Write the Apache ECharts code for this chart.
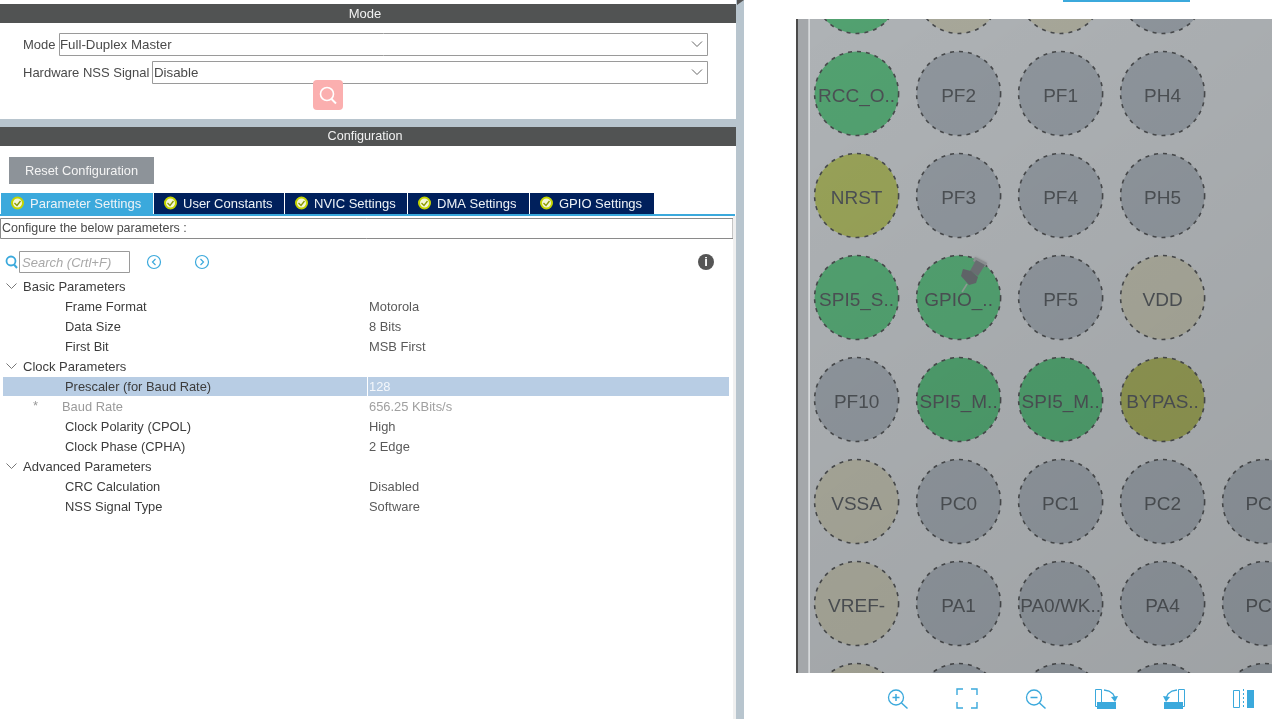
<!DOCTYPE html>
<html>
<head>
<meta charset="utf-8">
<style>html,body{margin:0;padding:0;background:#fff}#main{width:1272px;height:719px}</style>
<script src="https://cdn.jsdelivr.net/npm/echarts@6/dist/echarts.min.js"></script>
</head>
<body>
<div id="main"></div>
<script>
// pin grid, one list per row, row -1 is the one cut by the top edge
var pinRowIds = [-1, 0, 1, 2, 3, 4, 5, 6];
var pinNames = [
    ['', '', '', ''],
    ['RCC_O..', 'PF2', 'PF1', 'PH4'],
    ['NRST', 'PF3', 'PF4', 'PH5'],
    ['SPI5_S..', 'GPIO_..', 'PF5', 'VDD'],
    ['PF10', 'SPI5_M..', 'SPI5_M..', 'BYPAS..'],
    ['VSSA', 'PC0', 'PC1', 'PC2', 'PC'],
    ['VREF-', 'PA1', 'PA0/WK..', 'PA4', 'PC'],
    ['', '', '', '', '']
];
var pinKinds = [
    ['green', 'power', 'power', 'free'],
    ['green', 'free', 'free', 'free'],
    ['olive', 'free', 'free', 'free'],
    ['green', 'green', 'free', 'power'],
    ['free', 'spi', 'spi', 'bypass'],
    ['power', 'free', 'free', 'free', 'free'],
    ['power', 'free', 'free', 'free', 'free'],
    ['power', 'free', 'free', 'free', 'free']
];
var kindColors = {green: '#52a170', spi: '#4e9d6c', olive: '#98a258', bypass: '#8f9652', power: '#a8a89a', free: '#8f969d'};

var tabNames = ['Parameter Settings', 'User Constants', 'NVIC Settings', 'DMA Settings', 'GPIO Settings'];
var tabLeft = [1, 154, 285, 408, 530];
var tabRight = [153, 284, 407, 529, 654];
var paramLabels = ['Basic Parameters', 'Frame Format', 'Data Size', 'First Bit', 'Clock Parameters',
    'Prescaler (for Baud Rate)', 'Baud Rate', 'Clock Polarity (CPOL)', 'Clock Phase (CPHA)',
    'Advanced Parameters', 'CRC Calculation', 'NSS Signal Type'];
var paramValues = ['', 'Motorola', '8 Bits', 'MSB First', '', '128', '656.25 KBits/s', 'High', '2 Edge', '', 'Disabled', 'Software'];
var paramLevels = [0, 1, 1, 1, 0, 1, 2, 1, 1, 0, 1, 1];

var FONT = '"Liberation Sans"';
var BLUE = '#3ba9dc';
var els = [];

function rect(x, y, w, h, fill, stroke, r, z) {
    els.push({type: 'rect', z: z || 10, shape: {x: x, y: y, width: w, height: h, r: r || 0},
        style: {fill: fill || 'none', stroke: stroke || 'none', lineWidth: 1}});
}
function text(s, x, y, color, size, align, extra) {
    els.push({type: 'text', z: 41, style: {text: s, x: x, y: y, fill: color,
        font: (extra || '') + ' ' + size + 'px ' + FONT, align: align || 'left', verticalAlign: 'middle'}});
}
function line(x1, y1, x2, y2, color, w) {
    els.push({type: 'line', z: 40, shape: {x1: x1, y1: y1, x2: x2, y2: y2},
        style: {stroke: color, lineWidth: w || 1}});
}
function circle(x, y, r, fill, stroke, w) {
    els.push({type: 'circle', z: 40, shape: {cx: x, cy: y, r: r},
        style: {fill: fill || 'none', stroke: stroke || 'none', lineWidth: w || 1}});
}
function poly(points, color, w, fill, z) {
    els.push({type: fill ? 'polygon' : 'polyline', z: z || 40, shape: {points: points},
        style: fill ? {fill: color} : {stroke: color, lineWidth: w || 1, fill: 'none'}});
}
function chevron(x, y, size, color) {
    poly([[x - size, y - size / 2], [x, y + size / 2], [x + size, y - size / 2]], color, 1);
}

// left panel
rect(0, 4, 736, 19, '#515353');
text('Mode', 365, 14, '#f2f2f2', 13, 'center');
text('Mode', 23, 45, '#4a4a4a', 13);
rect(59.5, 33.5, 648, 22, '#fff', '#9a9a9a');
text('Full-Duplex Master', 60, 45, '#4a4a4a', 13.3);
chevron(697, 44, 5, '#666');
text('Hardware NSS Signal', 23, 73, '#4a4a4a', 13);
rect(152.5, 61.5, 555, 22, '#fff', '#9a9a9a');
text('Disable', 154, 73, '#4a4a4a', 13.3);
chevron(697, 72, 5, '#666');
rect(313, 80, 30, 30, '#fbafaf', null, 4);
circle(327, 94, 6.5, null, '#fff', 1.6);
line(331.5, 99, 336, 103.5, '#fff', 2);

rect(0, 119, 736, 8, '#b8c5ce');
rect(0, 127, 736, 19, '#515353');
text('Configuration', 365, 137, '#f2f2f2', 12.6, 'center');
rect(9, 157, 145, 27, '#8d9399');
text('Reset Configuration', 81.5, 171, '#f4f4f4', 12.8, 'center');

tabNames.forEach(function (name, i) {
    rect(tabLeft[i], 193, tabRight[i] - tabLeft[i], 21, i === 0 ? BLUE : '#00205c');
    circle(tabLeft[i] + 16.5, 203, 5.5, '#f4f6d8', '#c4d400', 2);
    poly([[tabLeft[i] + 13.5, 203], [tabLeft[i] + 16, 205.5], [tabLeft[i] + 19.5, 201]], '#8a9a00', 1.3);
    text(name, tabLeft[i] + 29, 204, '#eef3f7', 13);
});
rect(0, 214, 735, 2, BLUE);
rect(0.5, 218.5, 732.5, 20, '#fff', '#8a8a8a');
text('Configure the below parameters :', 2, 229, '#4a4a4a', 12.5);

circle(11, 261, 4.5, null, BLUE, 1.8);
line(14, 264.5, 17, 268, BLUE, 2);
rect(19.5, 251.5, 110, 21, '#fff', '#9a9a9a');
text('Search (Crtl+F)', 22, 263, '#a8a8a8', 13, 'left', 'italic');
circle(154, 262, 6.5, null, BLUE, 1.2);
poly([[155.5, 259], [152.5, 262], [155.5, 265]], BLUE, 1.2);
circle(202, 262, 6.5, null, BLUE, 1.2);
poly([[200.5, 259], [203.5, 262], [200.5, 265]], BLUE, 1.2);
circle(706, 262, 8, '#555');
text('i', 706, 262.5, '#fff', 13, 'center', 'bold');

// parameter table
rect(3, 377, 726, 19, '#b8cde4');
rect(367, 377, 1, 19, '#fff');
paramLabels.forEach(function (label, i) {
    var y = 287 + i * 20;
    if (paramLevels[i] === 0) {
        chevron(11.5, y - 1, 5, '#777');
        text(label, 23, y, '#3c3c3c', 13);
    } else if (paramLevels[i] === 1) {
        text(label, 65, y, '#3c3c3c', 12.9);
    } else {
        text('*', 33, y - 1, '#999', 13);
        text(label, 62, y, '#9a9a9a', 12.9);
    }
    if (paramValues[i]) {
        var c = i === 5 ? '#f4f7fb' : (i === 6 ? '#a0a0a0' : '#5a5a5a');
        text(paramValues[i], 369, y, c, 12.9);
    }
});

// divider between the two panels
rect(733, 216, 3, 503, '#f0f0f0');
rect(736, 0, 8, 719, '#b8c5ce');
poly([[737, 0], [744, 0], [737, 5]], '#555', 1, true);

// white bands above and below the chip hide the cut pin rows
rect(796, 0, 476, 19, '#fff', null, 0, 35);
rect(796, 673, 476, 46, '#fff', null, 0, 35);
rect(1063, 0, 127, 2, BLUE, null, 0, 40);

// left rim of the chip
rect(796, 19, 2, 654, '#4a4a4a', null, 0, 30);
rect(798, 19, 10.5, 654, '#a4a7aa', null, 0, 30);
rect(808.5, 19, 1.2, 654, '#e8eaeb', null, 0, 30);

// shading over the whole chip, darker to the lower right
els.push({type: 'rect', z: 25, silent: true, shape: {x: 810, y: 19, width: 462, height: 654},
    style: {fill: new echarts.graphic.LinearGradient(0, 0, 1, 1, [
        {offset: 0, color: 'rgba(0,0,0,0)'},
        {offset: 1, color: 'rgba(0,0,0,0.09)'}
    ])}});

// push pin on GPIO
els.push({type: 'polygon', z: 28, shape: {points: [[975, 257], [987, 263], [985, 267], [973, 261]]},
    style: {fill: '#8a8d90', shadowBlur: 3, shadowColor: 'rgba(110,110,110,.6)'}});
poly([[976, 260], [985, 265], [978, 276], [970, 271]], '#696d71', 1, true, 28);
poly([[963, 269], [971, 271], [978, 277], [976, 283], [969, 285], [961, 276]], '#5f6367', 1, true, 28);
els.push({type: 'line', z: 28, shape: {x1: 967, y1: 284, x2: 962, y2: 292}, style: {stroke: '#8b9a90', lineWidth: 1.6}});

// bottom toolbar
circle(896, 697.5, 7.5, null, BLUE, 1.3);
line(901.5, 703, 907.5, 708.5, BLUE, 1.5);
line(892.5, 697.5, 899.5, 697.5, BLUE, 1.5);
line(896, 694, 896, 701, BLUE, 1.5);
[[957, 689, 1, 1], [977, 689, -1, 1], [957, 708, 1, -1], [977, 708, -1, -1]].forEach(function (c) {
    poly([[c[0] + 6 * c[2], c[1]], [c[0], c[1]], [c[0], c[1] + 6 * c[3]]], BLUE, 1.4);
});
circle(1034, 697.5, 7.5, null, BLUE, 1.3);
line(1039.5, 703, 1045.5, 708.5, BLUE, 1.5);
line(1030.5, 697.5, 1037.5, 697.5, BLUE, 1.5);

rect(1095.5, 689.5, 6, 17, 'none', BLUE, 0, 40);
rect(1097, 702, 19, 7, BLUE, null, 0, 40);
poly([[1104, 690], [1109, 691], [1113, 694], [1115, 698]], BLUE, 1.3);
poly([[1111, 697], [1118, 696], [1115, 702]], BLUE, 1, true);
rect(1178.5, 689.5, 6, 17, 'none', BLUE, 0, 40);
rect(1164, 702, 19, 7, BLUE, null, 0, 40);
poly([[1177, 690], [1172, 691], [1168, 694], [1166, 698]], BLUE, 1.3);
poly([[1163, 696], [1170, 697], [1166, 702]], BLUE, 1, true);
rect(1233.5, 690.5, 6, 17, 'none', BLUE, 0, 40);
rect(1247, 690, 7, 18, BLUE, null, 0, 40);
els.push({type: 'line', z: 40, shape: {x1: 1243.5, y1: 689, x2: 1243.5, y2: 709},
    style: {stroke: BLUE, lineWidth: 1, lineDash: [2, 2]}});

// turn the row lists into scatter points
var pinData = [];
pinNames.forEach(function (row, r) {
    row.forEach(function (name, c) {
        pinData.push({
            value: [c, pinRowIds[r]],
            name: name,
            itemStyle: {color: kindColors[pinKinds[r][c]]},
            label: c === 4 ? {offset: [-6, 3]} : undefined
        });
    });
});

var myChart = echarts.init(document.getElementById('main'));
myChart.setOption({
    animation: false,
    backgroundColor: '#fff',
    grid: {
        left: 796, top: 19, width: 476, height: 654, show: true, borderWidth: 0,
        backgroundColor: '#aeb2b5'
    },
    // one unit is one pin pitch of 102px
    xAxis: {type: 'value', min: -0.5941, max: 4.0725, show: false},
    yAxis: {type: 'value', inverse: true, min: -0.7304, max: 5.6814, show: false},
    graphic: {elements: els},
    series: [{
        type: 'scatter',
        clip: false,
        symbol: 'circle',
        symbolSize: 84,
        itemStyle: {opacity: 1, borderColor: '#47494b', borderWidth: 1.6, borderType: [4, 5]},
        label: {
            show: true,
            position: 'inside',
            offset: [0, 3],
            formatter: '{b}',
            color: '#4c5054',
            fontFamily: 'Liberation Sans',
            fontSize: 19
        },
        data: pinData
    }]
});
</script>
</body>
</html>
